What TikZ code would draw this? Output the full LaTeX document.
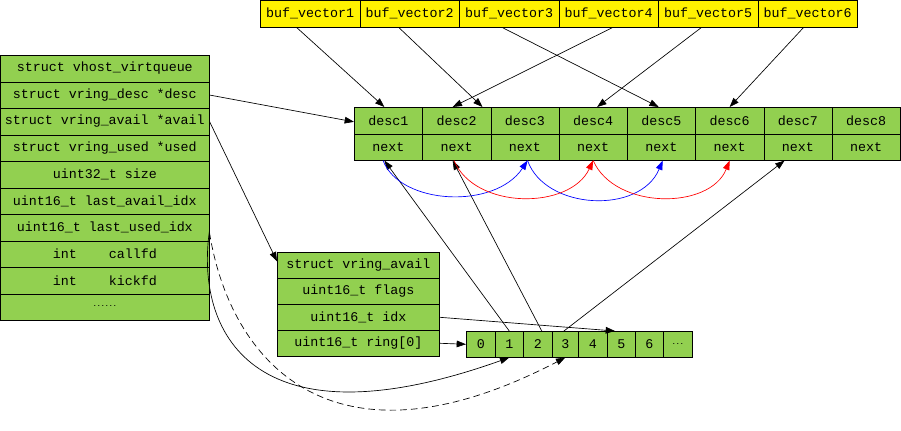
\documentclass[tikz,border=0pt]{standalone}
\usepackage{fontspec}
\setmainfont{Liberation Mono}
\usetikzlibrary{arrows.meta}
\definecolor{gr}{HTML}{92D050}
\begin{document}
\begin{tikzpicture}[x=0.75pt,y=-0.75pt,
  cell/.style={draw,fill=gr,inner sep=0pt,anchor=north west,font=\fontsize{10}{12}\selectfont},
  ycell/.style={draw,fill=yellow,inner sep=0pt,anchor=north west,font=\fontsize{10}{12}\selectfont},
  arr/.style={-{Triangle[length=7pt,width=5pt]},line width=0.5pt}]
\useasboundingbox (0,0) rectangle (901,430);
% left struct
\foreach \t [count=\i] in {struct vhost\_virtqueue,struct vring\_desc *desc,struct vring\_avail *avail,struct vring\_used *used,uint32\_t size,uint16\_t last\_avail\_idx,uint16\_t last\_used\_idx,int\ \ \ \ callfd,int\ \ \ \ kickfd,\textbf{\tiny\raisebox{1pt}{......}}}
  \node[cell,minimum width=209*0.75pt,minimum height=26.5*0.75pt] (L\i) at (0,{55+26.5*(\i-1)}) {\t};
% buf vectors
\foreach \i in {1,...,6}
  \node[ycell,minimum width=99.5*0.75pt,minimum height=27*0.75pt] (B\i) at ({260+99.5*(\i-1)},0) {buf\_vector\i};
% desc table
\foreach \i in {1,...,8}{
  \node[cell,minimum width=68.25*0.75pt,minimum height=26.5*0.75pt] (D\i) at ({354+68.25*(\i-1)},107) {desc\i};
  \node[cell,minimum width=68.25*0.75pt,minimum height=26.5*0.75pt] (N\i) at ({354+68.25*(\i-1)},133.5) {next};
}
% avail struct
\foreach \t [count=\i] in {struct vring\_avail,uint16\_t flags,uint16\_t idx,uint16\_t ring[0]}
  \node[cell,minimum width=162*0.75pt,minimum height=26*0.75pt] (A\i) at (277,{252+26*(\i-1)}) {\t};
% ring
\foreach \t/\x/\w [count=\i from 0] in {0/466/29,1/495/28,2/523/29,3/552/26,4/578/29,5/607/28,6/635/28,\textbf{\tiny ...}/663/29}
  \node[cell,minimum width=\w*0.75pt,minimum height=26*0.75pt] (R\i) at (\x,331) {\t};
% buf -> desc
\draw[arr] ([xshift=-10pt]B1.south) -- ([xshift=-3pt]D1.north);
\draw[arr] ([xshift=-8pt]B2.south) -- ([xshift=-6pt]D3.north west |- D3.north) ;
\draw[arr] ([xshift=-5pt]B3.south) -- ([xshift=-2pt]D5.north);
\draw[arr] ([xshift=3pt]B4.south) -- ([xshift=-3pt]D2.north);
\draw[arr] ([xshift=-5pt]B5.south) -- ([xshift=3pt]D4.north);
\draw[arr] ([xshift=-3pt]B6.south) -- (D6.north);
% struct -> tables
\draw[arr] (L2.east) -- ([yshift=-1pt]D1.west);
\draw[arr] (L3.east) -- ([yshift=-7pt]A1.north west);
\draw[arr] (A3.east) -- ([xshift=6pt]R5.north west);
\draw[arr] (A4.east) -- (R0.west);
% ring -> next
\draw[arr] (R1.north) -- ([xshift=-3pt]N1.south);
\draw[arr] ([xshift=3pt]R2.north) -- ([xshift=-3pt]N2.south);
\draw[arr] ([xshift=-1pt]R3.north) -- ([xshift=-10pt]N7.south);
% curved from last_used_idx
\draw[arr] ([yshift=-2pt]L7.east) .. controls (195,330) and (250,450) .. (R1.south);
\draw[arr,dashed,dash pattern=on 5pt off 3pt] ([yshift=-4pt]L7.east) .. controls (230,360) and (330,480) .. (R3.south);
% next chains
\draw[arr,blue] ([xshift=-4pt]N1.south) .. controls (400,205) and (495,210) .. ([xshift=2pt]N3.south);
\draw[arr,blue] ([xshift=2pt]N3.south) .. controls (545,210) and (640,215) .. ([xshift=1pt]N5.south);
\draw[arr,red] ([xshift=-2pt]N2.south) .. controls (475,210) and (570,210) .. (N4.south);
\draw[arr,red] (N4.south) .. controls (615,210) and (710,210) .. (N6.south);
\end{tikzpicture}
\end{document}
